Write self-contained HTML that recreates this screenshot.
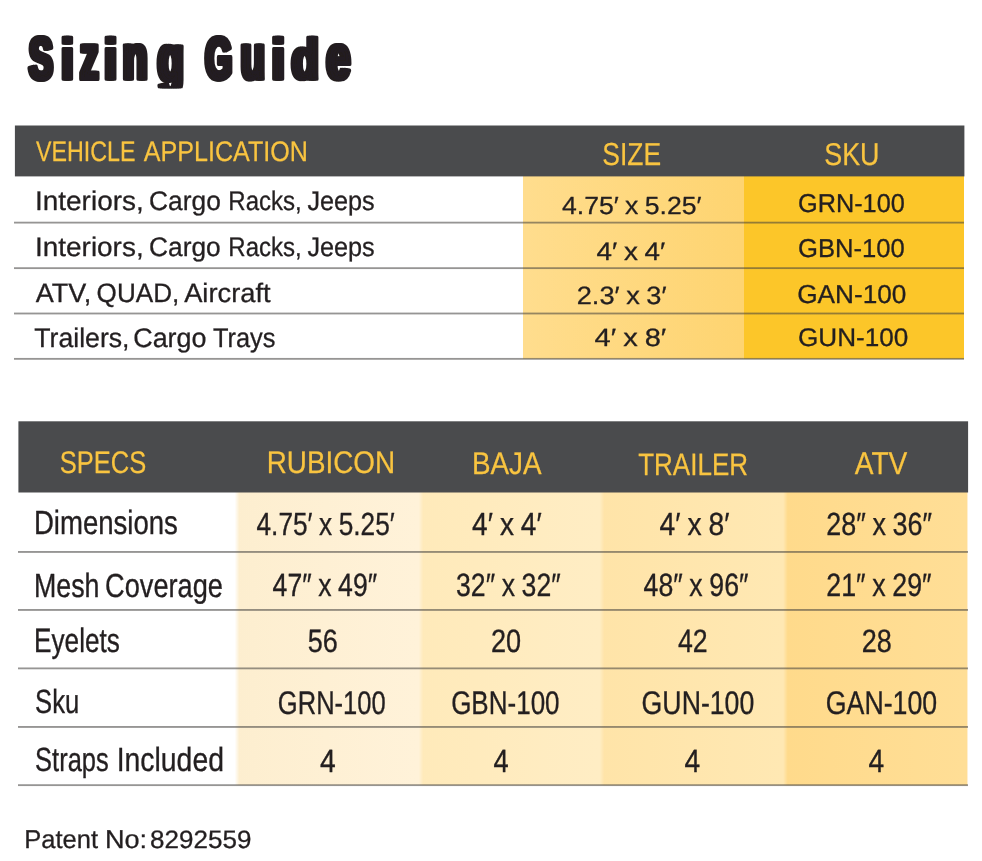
<!DOCTYPE html>
<html><head><meta charset="utf-8"><title>Sizing Guide</title>
<style>
html,body{margin:0;padding:0;background:#fff;}
body{width:982px;height:861px;position:relative;overflow:hidden;font-family:"Liberation Sans",sans-serif;}
.b{position:absolute;}
.t{position:absolute;white-space:nowrap;line-height:1;word-spacing:-0.06em;transform-origin:0 0;margin:0;padding:0;will-change:transform;}
.ln{position:absolute;height:6px;}
</style></head><body>
<div class="b" style="left:521px;top:174px;width:224px;height:186px;-webkit-mask-image:linear-gradient(90deg,transparent 1.50px,#000 2.50px,#000 222.50px,transparent 223.50px);mask-image:linear-gradient(90deg,transparent 1.50px,#000 2.50px,#000 222.50px,transparent 223.50px);"><div style="width:100%;height:100%;background:linear-gradient(90deg,#ffdd8e 0%,#fed470 100%);-webkit-mask-image:linear-gradient(180deg,transparent 1.30px,#000 2.30px,#000 184.30px,transparent 185.30px);mask-image:linear-gradient(180deg,transparent 1.30px,#000 2.30px,#000 184.30px,transparent 185.30px);"></div></div>
<div class="b" style="left:742px;top:174px;width:223px;height:186px;-webkit-mask-image:linear-gradient(90deg,transparent 1.50px,#000 2.50px,#000 221.50px,transparent 222.50px);mask-image:linear-gradient(90deg,transparent 1.50px,#000 2.50px,#000 221.50px,transparent 222.50px);"><div style="width:100%;height:100%;background:#fcc629;-webkit-mask-image:linear-gradient(180deg,transparent 1.30px,#000 2.30px,#000 184.30px,transparent 185.30px);mask-image:linear-gradient(180deg,transparent 1.30px,#000 2.30px,#000 184.30px,transparent 185.30px);"></div></div>
<div class="b" style="left:13px;top:124px;width:953px;height:54px;-webkit-mask-image:linear-gradient(90deg,transparent 1.40px,#000 2.40px,#000 950.90px,transparent 951.90px);mask-image:linear-gradient(90deg,transparent 1.40px,#000 2.40px,#000 950.90px,transparent 951.90px);"><div style="width:100%;height:100%;background:#4a4b4d;-webkit-mask-image:linear-gradient(180deg,transparent 1.00px,#000 2.00px,#000 51.90px,transparent 52.90px);mask-image:linear-gradient(180deg,transparent 1.00px,#000 2.00px,#000 51.90px,transparent 52.90px);"></div></div>
<div class="ln" style="left:14px;top:219px;width:950px;background:linear-gradient(180deg,rgba(64,62,60,0) 2.25px,rgba(64,62,60,0.55) 3.10px,rgba(64,62,60,0.55) 4.10px,rgba(64,62,60,0) 4.95px);"></div>
<div class="ln" style="left:14px;top:265px;width:950px;background:linear-gradient(180deg,rgba(64,62,60,0) 1.85px,rgba(64,62,60,0.55) 2.70px,rgba(64,62,60,0.55) 3.70px,rgba(64,62,60,0) 4.55px);"></div>
<div class="ln" style="left:14px;top:310px;width:950px;background:linear-gradient(180deg,rgba(64,62,60,0) 2.15px,rgba(64,62,60,0.55) 3.00px,rgba(64,62,60,0.55) 4.00px,rgba(64,62,60,0) 4.85px);"></div>
<div class="ln" style="left:14px;top:355px;width:950px;background:linear-gradient(180deg,rgba(64,62,60,0) 2.45px,rgba(64,62,60,0.55) 3.30px,rgba(64,62,60,0.55) 4.30px,rgba(64,62,60,0) 5.15px);"></div>
<div class="b" style="left:233px;top:490px;width:736px;height:297px;-webkit-mask-image:linear-gradient(90deg,transparent 1.80px,#000 6.20px,#000 733.70px,transparent 734.70px);mask-image:linear-gradient(90deg,transparent 1.80px,#000 6.20px,#000 733.70px,transparent 734.70px);"><div style="width:100%;height:100%;background:linear-gradient(90deg,#fdeecf 2px,#fff2d9 184.0px);-webkit-mask-image:linear-gradient(180deg,transparent 1.40px,#000 2.40px,#000 294.70px,transparent 295.70px);mask-image:linear-gradient(180deg,transparent 1.40px,#000 2.40px,#000 294.70px,transparent 295.70px);"></div></div>
<div class="b" style="left:417px;top:490px;width:552px;height:297px;-webkit-mask-image:linear-gradient(90deg,transparent 1.80px,#000 6.20px,#000 549.70px,transparent 550.70px);mask-image:linear-gradient(90deg,transparent 1.80px,#000 6.20px,#000 549.70px,transparent 550.70px);"><div style="width:100%;height:100%;background:linear-gradient(90deg,#ffeaba 2px,#ffedc4 181.0px);-webkit-mask-image:linear-gradient(180deg,transparent 1.40px,#000 2.40px,#000 294.70px,transparent 295.70px);mask-image:linear-gradient(180deg,transparent 1.40px,#000 2.40px,#000 294.70px,transparent 295.70px);"></div></div>
<div class="b" style="left:598px;top:490px;width:371px;height:297px;-webkit-mask-image:linear-gradient(90deg,transparent 1.80px,#000 6.20px,#000 368.70px,transparent 369.70px);mask-image:linear-gradient(90deg,transparent 1.80px,#000 6.20px,#000 368.70px,transparent 369.70px);"><div style="width:100%;height:100%;background:linear-gradient(90deg,#ffe4a8 2px,#ffe8b3 183.5px);-webkit-mask-image:linear-gradient(180deg,transparent 1.40px,#000 2.40px,#000 294.70px,transparent 295.70px);mask-image:linear-gradient(180deg,transparent 1.40px,#000 2.40px,#000 294.70px,transparent 295.70px);"></div></div>
<div class="b" style="left:782px;top:490px;width:187px;height:297px;-webkit-mask-image:linear-gradient(90deg,transparent 1.30px,#000 5.70px,#000 184.70px,transparent 185.70px);mask-image:linear-gradient(90deg,transparent 1.30px,#000 5.70px,#000 184.70px,transparent 185.70px);"><div style="width:100%;height:100%;background:linear-gradient(90deg,#ffda8b 2px,#ffde96 181.7px);-webkit-mask-image:linear-gradient(180deg,transparent 1.40px,#000 2.40px,#000 294.70px,transparent 295.70px);mask-image:linear-gradient(180deg,transparent 1.40px,#000 2.40px,#000 294.70px,transparent 295.70px);"></div></div>
<div class="b" style="left:16px;top:420px;width:954px;height:74px;-webkit-mask-image:linear-gradient(90deg,transparent 1.90px,#000 2.90px,#000 951.60px,transparent 952.60px);mask-image:linear-gradient(90deg,transparent 1.90px,#000 2.90px,#000 951.60px,transparent 952.60px);"><div style="width:100%;height:100%;background:#4a4b4d;-webkit-mask-image:linear-gradient(180deg,transparent 0.80px,#000 1.80px,#000 72.00px,transparent 73.00px);mask-image:linear-gradient(180deg,transparent 0.80px,#000 1.80px,#000 72.00px,transparent 73.00px);"></div></div>
<div class="ln" style="left:18px;top:548px;width:950px;background:linear-gradient(180deg,rgba(64,62,60,0) 2.55px,rgba(64,62,60,0.55) 3.40px,rgba(64,62,60,0.55) 4.40px,rgba(64,62,60,0) 5.25px);"></div>
<div class="ln" style="left:18px;top:606px;width:950px;background:linear-gradient(180deg,rgba(64,62,60,0) 2.55px,rgba(64,62,60,0.55) 3.40px,rgba(64,62,60,0.55) 4.40px,rgba(64,62,60,0) 5.25px);"></div>
<div class="ln" style="left:18px;top:665px;width:950px;background:linear-gradient(180deg,rgba(64,62,60,0) 2.05px,rgba(64,62,60,0.55) 2.90px,rgba(64,62,60,0.55) 3.90px,rgba(64,62,60,0) 4.75px);"></div>
<div class="ln" style="left:18px;top:723px;width:950px;background:linear-gradient(180deg,rgba(64,62,60,0) 2.55px,rgba(64,62,60,0.55) 3.40px,rgba(64,62,60,0.55) 4.40px,rgba(64,62,60,0) 5.25px);"></div>
<div class="ln" style="left:18px;top:782px;width:950px;background:linear-gradient(180deg,rgba(64,62,60,0) 1.85px,rgba(64,62,60,0.55) 2.70px,rgba(64,62,60,0.55) 3.70px,rgba(64,62,60,0) 4.55px);"></div>
<svg class="b" style="left:0;top:0;overflow:visible;will-change:transform" width="982" height="861" viewBox="0 0 982 861" font-family="Liberation Sans, sans-serif" stroke-linejoin="round" text-rendering="geometricPrecision">
<filter id="soft" x="-5%" y="-20%" width="110%" height="140%"><feGaussianBlur stdDeviation="0.35"/></filter>
<clipPath id="gclip"><rect x="0" y="0" width="982" height="88.2"/></clipPath>
<g font-weight="700" font-size="60" fill="#231f20" stroke="#231f20" filter="url(#soft)">
<g><g transform="translate(29.15,78.61) scale(0.5870,0.9979)" stroke-width="4.6"><text x="-2.4">S</text><text>S</text><text x="2.4">S</text></g></g>
<g><g transform="translate(61.36,79.17) scale(0.7209,0.9576)" stroke-width="3.4"><text x="-2.4">i</text><text>i</text><text x="2.4">i</text></g></g>
<g><g transform="translate(80.20,78.89) scale(0.6012,1.0621)" stroke-width="3.6"><text x="-2.6">z</text><text>z</text><text x="2.6">z</text></g></g>
<g><g transform="translate(104.46,79.17) scale(0.7267,0.9576)" stroke-width="3.4"><text x="-2.4">i</text><text>i</text><text x="2.4">i</text></g></g>
<g><g transform="translate(122.96,79.00) scale(0.6605,1.0615)" stroke-width="3.4"><text x="-2.6">n</text><text>n</text><text x="2.6">n</text></g></g>
<g clip-path="url(#gclip)"><g transform="translate(157.89,80.80) scale(0.6954,1.0920)" stroke-width="3.6"><text x="-2.6">g</text><text>g</text><text x="2.6">g</text></g></g>
<g><g transform="translate(205.31,78.61) scale(0.5677,0.9979)" stroke-width="4.6"><text x="-2.4">G</text><text>G</text><text x="2.4">G</text></g></g>
<g><g transform="translate(240.86,79.05) scale(0.6500,1.0642)" stroke-width="3.4"><text x="-2.6">u</text><text>u</text><text x="2.6">u</text></g></g>
<g><g transform="translate(271.97,79.17) scale(0.7442,0.9576)" stroke-width="3.4"><text x="-2.4">i</text><text>i</text><text x="2.4">i</text></g></g>
<g><g transform="translate(291.77,79.29) scale(0.7219,0.9603)" stroke-width="3.4"><text x="-2.6">d</text><text>d</text><text x="2.6">d</text></g></g>
<g><g transform="translate(326.85,78.87) scale(0.6846,1.0516)" stroke-width="3.8"><text x="-2.6">e</text><text>e</text><text x="2.6">e</text></g></g>
</g>
<g style="word-spacing:-0.06em">
<text transform="translate(36.00,160.68) scale(0.8211,1)" font-size="28.33" fill="#f9c440" stroke="#f9c440" stroke-width="0.25">VEHICLE</text>
<text transform="translate(143.81,160.68) scale(0.8857,1)" font-size="28.33" fill="#f9c440" stroke="#f9c440" stroke-width="0.25">APPLICATION</text>
<text transform="translate(602.25,164.88) scale(0.8320,1)" font-size="31.81" fill="#f9c440" stroke="#f9c440" stroke-width="0.25">SIZE</text>
<text transform="translate(824.23,164.88) scale(0.8533,1)" font-size="31.52" fill="#f9c440" stroke="#f9c440" stroke-width="0.25">SKU</text>
<text transform="translate(35.04,210.25) scale(1.0362,1)" font-size="26.96" fill="#231f20" stroke="#231f20" stroke-width="0.3">Interiors,</text>
<text transform="translate(149.03,210.25) scale(0.9776,1)" font-size="26.96" fill="#231f20" stroke="#231f20" stroke-width="0.3">Cargo</text>
<text transform="translate(228.31,210.25) scale(0.8918,1)" font-size="26.96" fill="#231f20" stroke="#231f20" stroke-width="0.3">Racks,</text>
<text transform="translate(307.39,210.25) scale(0.9360,1)" font-size="26.96" fill="#231f20" stroke="#231f20" stroke-width="0.3">Jeeps</text>
<text transform="translate(35.04,255.95) scale(1.0417,1)" font-size="26.81" fill="#231f20" stroke="#231f20" stroke-width="0.3">Interiors,</text>
<text transform="translate(149.03,255.95) scale(0.9829,1)" font-size="26.81" fill="#231f20" stroke="#231f20" stroke-width="0.3">Cargo</text>
<text transform="translate(228.31,255.95) scale(0.8966,1)" font-size="26.81" fill="#231f20" stroke="#231f20" stroke-width="0.3">Racks,</text>
<text transform="translate(307.39,255.95) scale(0.9410,1)" font-size="26.81" fill="#231f20" stroke="#231f20" stroke-width="0.3">Jeeps</text>
<text transform="translate(35.75,301.85) scale(1.0132,1)" font-size="26.67" fill="#231f20" stroke="#231f20" stroke-width="0.3">ATV,</text>
<text transform="translate(96.60,301.85) scale(0.9786,1)" font-size="26.67" fill="#231f20" stroke="#231f20" stroke-width="0.3">QUAD,</text>
<text transform="translate(184.15,301.85) scale(1.0246,1)" font-size="26.67" fill="#231f20" stroke="#231f20" stroke-width="0.3">Aircraft</text>
<text transform="translate(34.22,347.15) scale(0.9889,1)" font-size="26.96" fill="#231f20" stroke="#231f20" stroke-width="0.3">Trailers,</text>
<text transform="translate(133.20,347.15) scale(0.9986,1)" font-size="26.96" fill="#231f20" stroke="#231f20" stroke-width="0.3">Cargo</text>
<text transform="translate(212.93,347.15) scale(0.9412,1)" font-size="26.96" fill="#231f20" stroke="#231f20" stroke-width="0.3">Trays</text>
<text transform="translate(561.93,213.55) scale(1.0707,1)" font-size="24.86" fill="#231f20" stroke="#231f20" stroke-width="0.3">4.75′ x 5.25′</text>
<text transform="translate(596.61,259.65) scale(1.1020,1)" font-size="25.29" fill="#231f20" stroke="#231f20" stroke-width="0.3">4′ x 4′</text>
<text transform="translate(576.70,304.15) scale(1.0883,1)" font-size="25.00" fill="#231f20" stroke="#231f20" stroke-width="0.3">2.3′ x 3′</text>
<text transform="translate(594.59,346.15) scale(1.1629,1)" font-size="25.00" fill="#231f20" stroke="#231f20" stroke-width="0.3">4′ x 8′</text>
<text transform="translate(797.98,212.15) scale(0.9801,1)" font-size="25.80" fill="#231f20" stroke="#231f20" stroke-width="0.3">GRN-100</text>
<text transform="translate(797.97,257.35) scale(0.9933,1)" font-size="25.80" fill="#231f20" stroke="#231f20" stroke-width="0.3">GBN-100</text>
<text transform="translate(797.14,303.05) scale(1.0103,1)" font-size="25.94" fill="#231f20" stroke="#231f20" stroke-width="0.3">GAN-100</text>
<text transform="translate(797.95,346.35) scale(1.0242,1)" font-size="25.51" fill="#231f20" stroke="#231f20" stroke-width="0.3">GUN-100</text>
<text transform="translate(59.68,472.68) scale(0.8175,1)" font-size="31.23" fill="#f9c440" stroke="#f9c440" stroke-width="0.25">SPECS</text>
<text transform="translate(266.68,472.68) scale(0.8916,1)" font-size="31.23" fill="#f9c440" stroke="#f9c440" stroke-width="0.25">RUBICON</text>
<text transform="translate(471.88,474.27) scale(0.8913,1)" font-size="31.23" fill="#f9c440" stroke="#f9c440" stroke-width="0.25">BAJA</text>
<text transform="translate(638.18,475.38) scale(0.8411,1)" font-size="30.94" fill="#f9c440" stroke="#f9c440" stroke-width="0.25">TRAILER</text>
<text transform="translate(854.71,474.27) scale(0.8936,1)" font-size="31.52" fill="#f9c440" stroke="#f9c440" stroke-width="0.25">ATV</text>
<text transform="translate(33.94,534.33) scale(0.8248,1)" font-size="33.41" fill="#231f20" stroke="#231f20" stroke-width="0.35">Dimensions</text>
<text transform="translate(34.00,597.23) scale(0.8014,1)" font-size="33.41" fill="#231f20" stroke="#231f20" stroke-width="0.35">Mesh</text>
<text transform="translate(105.08,597.23) scale(0.8130,1)" font-size="33.41" fill="#231f20" stroke="#231f20" stroke-width="0.35">Coverage</text>
<text transform="translate(34.04,651.73) scale(0.7742,1)" font-size="33.84" fill="#231f20" stroke="#231f20" stroke-width="0.35">Eyelets</text>
<text transform="translate(35.11,712.73) scale(0.7637,1)" font-size="33.55" fill="#231f20" stroke="#231f20" stroke-width="0.35">Sku</text>
<text transform="translate(35.11,771.43) scale(0.7592,1)" font-size="33.55" fill="#231f20" stroke="#231f20" stroke-width="0.35">Straps</text>
<text transform="translate(116.69,771.43) scale(0.8455,1)" font-size="33.55" fill="#231f20" stroke="#231f20" stroke-width="0.35">Included</text>
<text transform="translate(256.52,534.62) scale(0.8186,1)" font-size="32.07" fill="#231f20" stroke="#231f20" stroke-width="0.35">4.75′ x 5.25′</text>
<text transform="translate(272.61,595.73) scale(0.8259,1)" font-size="32.21" fill="#231f20" stroke="#231f20" stroke-width="0.35">47″ x 49″</text>
<text transform="translate(307.76,652.03) scale(0.8354,1)" font-size="32.36" fill="#231f20" stroke="#231f20" stroke-width="0.35">56</text>
<text transform="translate(277.86,713.73) scale(0.7812,1)" font-size="32.68" fill="#231f20" stroke="#231f20" stroke-width="0.35">GRN-100</text>
<text transform="translate(319.89,771.83) scale(0.8761,1)" font-size="32.21" fill="#231f20" stroke="#231f20" stroke-width="0.35">4</text>
<text transform="translate(472.09,534.62) scale(0.8744,1)" font-size="32.07" fill="#231f20" stroke="#231f20" stroke-width="0.35">4′ x 4′</text>
<text transform="translate(456.05,595.73) scale(0.8264,1)" font-size="32.21" fill="#231f20" stroke="#231f20" stroke-width="0.35">32″ x 32″</text>
<text transform="translate(490.89,652.03) scale(0.8375,1)" font-size="32.36" fill="#231f20" stroke="#231f20" stroke-width="0.35">20</text>
<text transform="translate(451.14,713.73) scale(0.7962,1)" font-size="32.68" fill="#231f20" stroke="#231f20" stroke-width="0.35">GBN-100</text>
<text transform="translate(493.40,771.83) scale(0.8463,1)" font-size="32.21" fill="#231f20" stroke="#231f20" stroke-width="0.35">4</text>
<text transform="translate(659.49,534.62) scale(0.8809,1)" font-size="32.07" fill="#231f20" stroke="#231f20" stroke-width="0.35">4′ x 8′</text>
<text transform="translate(643.61,595.73) scale(0.8283,1)" font-size="32.21" fill="#231f20" stroke="#231f20" stroke-width="0.35">48″ x 96″</text>
<text transform="translate(678.01,652.03) scale(0.8245,1)" font-size="32.36" fill="#231f20" stroke="#231f20" stroke-width="0.35">42</text>
<text transform="translate(641.61,713.73) scale(0.8166,1)" font-size="32.68" fill="#231f20" stroke="#231f20" stroke-width="0.35">GUN-100</text>
<text transform="translate(684.59,771.83) scale(0.8761,1)" font-size="32.21" fill="#231f20" stroke="#231f20" stroke-width="0.35">4</text>
<text transform="translate(826.30,534.62) scale(0.8393,1)" font-size="32.07" fill="#231f20" stroke="#231f20" stroke-width="0.35">28″ x 36″</text>
<text transform="translate(826.31,595.73) scale(0.8316,1)" font-size="32.21" fill="#231f20" stroke="#231f20" stroke-width="0.35">21″ x 29″</text>
<text transform="translate(861.80,652.03) scale(0.8345,1)" font-size="32.36" fill="#231f20" stroke="#231f20" stroke-width="0.35">28</text>
<text transform="translate(825.81,713.73) scale(0.8171,1)" font-size="32.68" fill="#231f20" stroke="#231f20" stroke-width="0.35">GAN-100</text>
<text transform="translate(868.59,771.83) scale(0.8761,1)" font-size="32.21" fill="#231f20" stroke="#231f20" stroke-width="0.35">4</text>
<text transform="translate(24.31,848.35) scale(0.9894,1)" font-size="25.80" fill="#231f20" stroke="#231f20" stroke-width="0.3">Patent</text>
<text transform="translate(104.89,848.35) scale(1.0494,1)" font-size="25.80" fill="#231f20" stroke="#231f20" stroke-width="0.3">No:</text>
<text transform="translate(150.01,848.35) scale(1.0363,1)" font-size="25.14" fill="#231f20" stroke="#231f20" stroke-width="0.3">8292559</text>
</g>
</svg>
</body></html>
